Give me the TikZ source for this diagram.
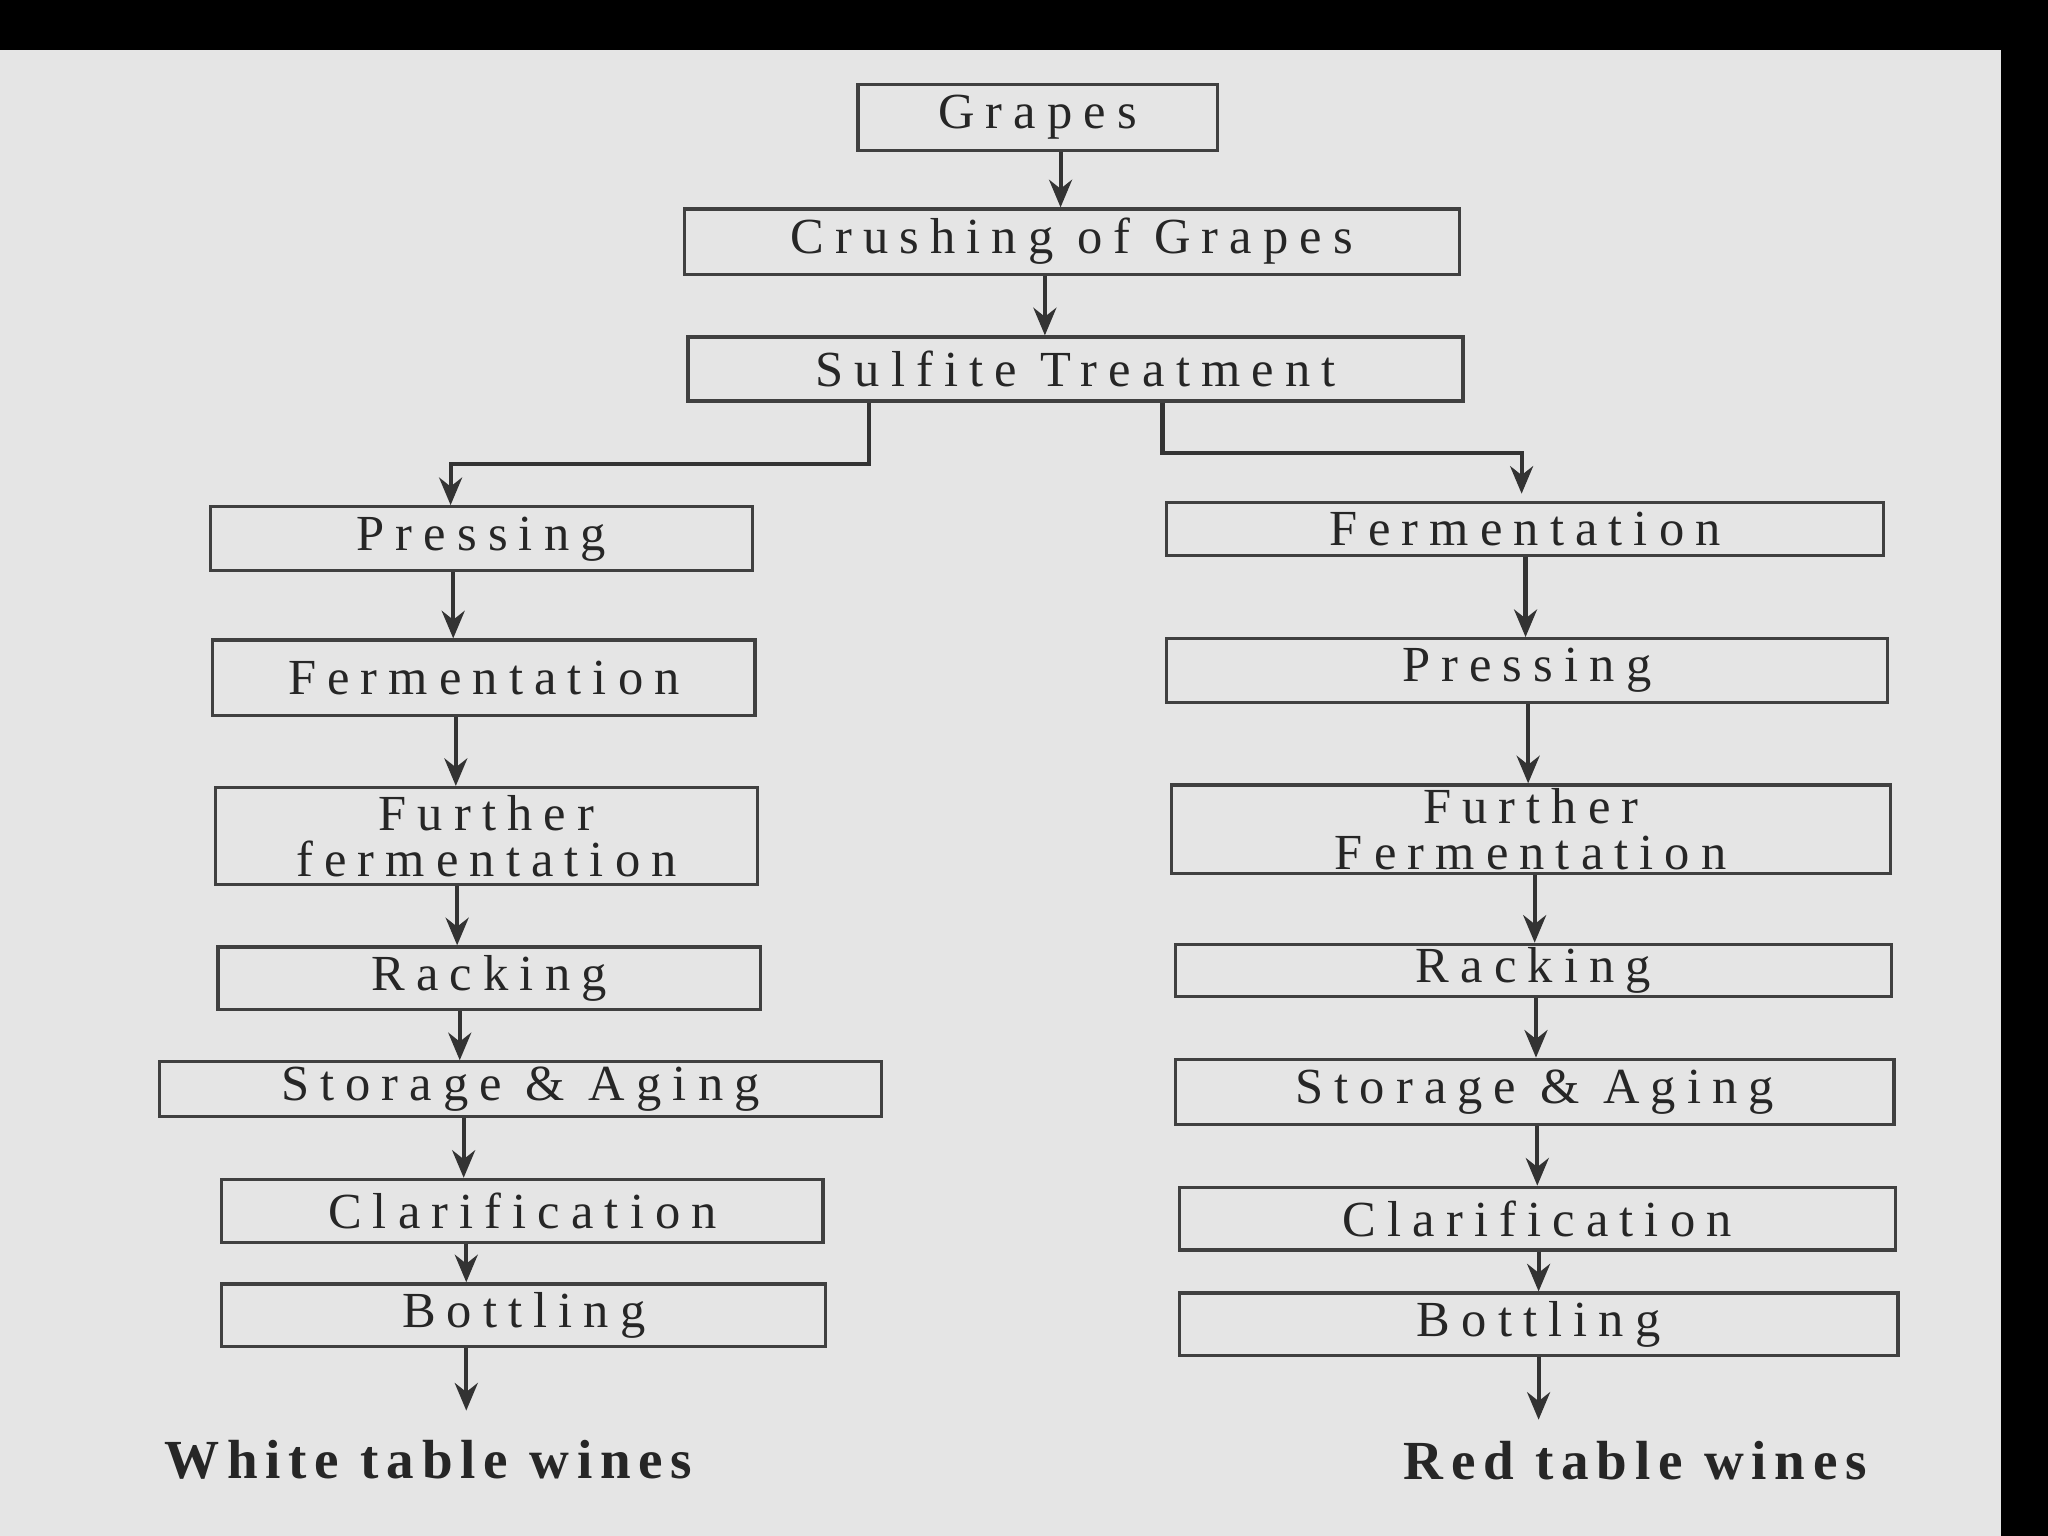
\documentclass[tikz,border=0pt]{standalone}
\usepackage{fontspec}
\setmainfont{Liberation Serif}[LetterSpace=22]
\newfontfamily\lblfont{Liberation Serif}[LetterSpace=14]
\usetikzlibrary{arrows.meta}
\begin{document}
\begin{tikzpicture}[x=0.01cm,y=-0.01cm,
  box/.style={draw=black!75,line width=0.7pt,inner sep=0pt,align=center,font=\fontsize{11}{10}\selectfont,text=black!85},
  arr/.style={draw=black!80,line width=0.9pt,-{Stealth[length=6pt,width=5pt]}},
  lbl/.style={font=\lblfont\bfseries\fontsize{12}{14}\selectfont,text=black!85}]
\fill[black!10] (0,0) rectangle (1568,1176);
\fill[black] (0,0) rectangle (1568,38);
\fill[black] (1532,0) rectangle (1568,1176);
\useasboundingbox (0,0) rectangle (1568,1176);
\newcommand{\bx}[6]{\node[box,minimum width={(#4-#3)*0.1mm},minimum height={(#6-#5)*0.1mm}] (#1) at ({(#3+#4)/2},{(#5+#6)/2}) {#2};}
\bx{g}{Grapes}{657}{932}{65}{115}
\bx{c}{Crushing of Grapes}{524}{1117}{160}{210}
\bx{s}{Sulfite Treatment}{527}{1120}{258}{307}
\bx{lp}{Pressing}{161}{576}{388}{437}
\bx{lf}{Fermentation}{163}{578}{490}{548}
\bx{lff}{Further\\fermentation}{165}{580}{603}{677}
\bx{lr}{Racking}{167}{582}{725}{773}
\bx{ls}{Storage \& Aging}{122}{675}{813}{855}
\bx{lc}{Clarification}{170}{630}{903}{951}
\bx{lb}{Bottling}{170}{632}{983}{1031}
\bx{rf}{Fermentation}{893}{1442}{385}{425}
\bx{rp}{Pressing}{893}{1445}{489}{538}
\bx{rff}{Further\\Fermentation}{897}{1447}{601}{669}
\bx{rr}{Racking}{900}{1448}{723}{763}
\bx{rs}{Storage \& Aging}{900}{1450}{811}{861}
\bx{rc}{Clarification}{903}{1451}{909}{957}
\bx{rb}{Bottling}{903}{1453}{990}{1038}
\coordinate (wend) at (357,1080);
\coordinate (rend) at (1178,1087);
\node[lbl] (w) at (328,1118) {White table wines};
\node[lbl] (r) at (1252,1118) {Red table wines};
\draw[arr] (g.south -| 812,0) -- (c.north -| 812,0);
\draw[arr] (c.south -| 800,0) -- (s.north -| 800,0);
\draw[arr] (s.south -| 665,0) -- (665,355) -- (345,355) -- (lp.north -| 345,0);
\draw[arr] (s.south -| 890,0) -- (890,347) -- (1165,347) -- (1165,378);
\draw[arr] (lp.south -| 347,0) -- (lf.north -| 347,0);
\draw[arr] (lf.south -| 349,0) -- (lff.north -| 349,0);
\draw[arr] (lff.south -| 350,0) -- (lr.north -| 350,0);
\draw[arr] (lr.south -| 352,0) -- (ls.north -| 352,0);
\draw[arr] (ls.south -| 355,0) -- (lc.north -| 355,0);
\draw[arr] (lc.south -| 357,0) -- (lb.north -| 357,0);
\draw[arr] (lb.south -| 357,0) -- (wend);
\draw[arr] (rf.south -| 1168,0) -- (rp.north -| 1168,0);
\draw[arr] (rp.south -| 1170,0) -- (rff.north -| 1170,0);
\draw[arr] (rff.south -| 1175,0) -- (rr.north -| 1175,0);
\draw[arr] (rr.south -| 1176,0) -- (rs.north -| 1176,0);
\draw[arr] (rs.south -| 1177,0) -- (rc.north -| 1177,0);
\draw[arr] (rc.south -| 1178,0) -- (rb.north -| 1178,0);
\draw[arr] (rb.south -| 1178,0) -- (rend);
\end{tikzpicture}
\end{document}
